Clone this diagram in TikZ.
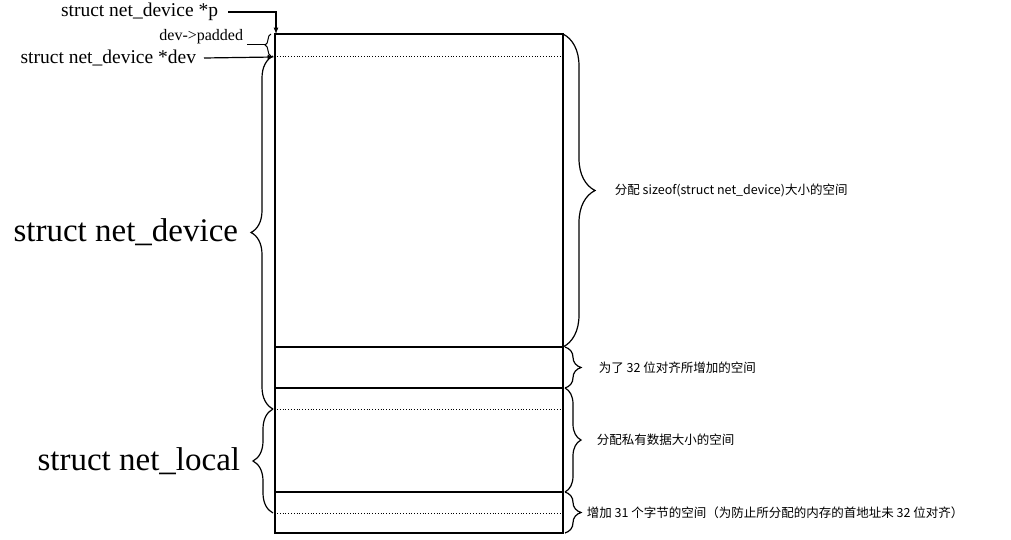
\documentclass[tikz,border=0pt]{standalone}
\usepackage{fontspec}
\setmainfont{Liberation Serif}
\newfontfamily\cjk{Noto Sans CJK SC}
\usetikzlibrary{decorations.pathreplacing}
\tikzset{every picture/.style={line width=1.2pt}}
\tikzset{
  brace/.style={decorate,decoration={brace,amplitude=#1}},
  brace/.default=12pt,
  dotline/.style={dotted,line width=0.8pt},
  note/.style={font=\fontsize{12.5}{14}\selectfont\cjk,anchor=west},
  big/.style={font=\fontsize{33}{36}\selectfont},
  ptr/.style={font=\fontsize{19.5}{22}\selectfont,anchor=east}
}
\begin{document}
\begin{tikzpicture}[x=1pt,y=-1pt]
\useasboundingbox (0,0) rectangle (1011,540);
% memory block
\draw (275,34) rectangle (563,533);
\draw (275,347) -- (563,347);
\draw (275,388) -- (563,388);
\draw (275,492) -- (563,492);
\draw[dotline] (277,56) -- (561,56);
\draw[dotline] (277,409) -- (561,409);
\draw[dotline] (277,513) -- (561,513);

% right braces
\draw[brace=32pt] (563,34) -- (563,347) node[midway,right=48pt,note] (szdev) {分配 sizeof(struct net\_device)大小的空间};
\draw[brace=16pt] (565,347) -- (565,388) node[midway,right=30pt,note] (align) {为了 32 位对齐所增加的空间};
\draw[brace=16pt] (565,388) -- (565,492) node[midway,right=28pt,note] (priv) {分配私有数据大小的空间};
\draw[brace=16pt] (565,492) -- (565,533) node[midway,right=18pt,note] (pad) {增加 31 个字节的空间（为防止所分配的内存的首地址未 32 位对齐）};

% left braces
\draw[brace=22pt] (273,409) -- (273,56) node[midway,left=31pt,big] (dev) {struct net\_device};
\draw[brace=20pt] (273,513) -- (273,409) node[midway,left=29pt,big] (loc) {struct net\_local};
\draw[brace=6pt,line width=1pt] (271,56) -- (271,34) coordinate[midway] (pm);
\node[font=\fontsize{16}{18}\selectfont,anchor=south east] (padded) at (247,48) {dev->padded};
\draw[line width=1pt] (pm) ++(-6,0) -- (247,45);

% pointers
\node[ptr] (p) at (222,12) {struct net\_device *p};
\coordinate (pc) at (276,34);
\draw[-latex] (p.east) ++(6,0) -- (p.east -| pc) -- (pc);
\node[ptr] (d) at (200,58) {struct net\_device *dev};
\draw[-latex] (d.east) ++(4,0) -- (274,57);
\end{tikzpicture}
\end{document}
